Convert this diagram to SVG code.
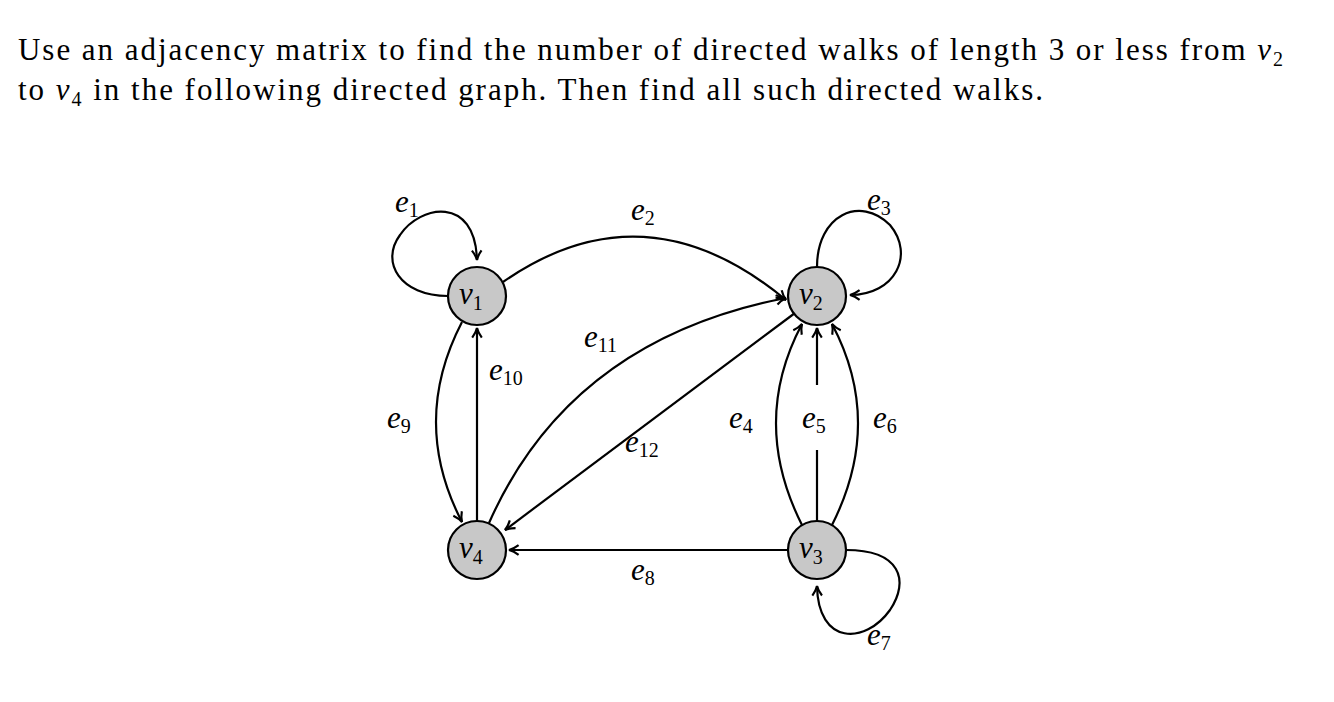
<svg xmlns="http://www.w3.org/2000/svg" width="1334" height="702" viewBox="0 0 1334 702">
<style>
.t{font-family:"Liberation Serif","DejaVu Serif",serif;font-size:31px;fill:#000}
.m{font-family:"Liberation Serif","DejaVu Serif",serif;font-style:italic;font-size:31px;fill:#000}
.s{font-style:normal;font-size:20px}
.e{fill:none;stroke:#000;stroke-width:2.2;marker-end:url(#a)}
.n{fill:#c8c8c8;stroke:#000;stroke-width:2.2}
</style>
<defs><marker id="a" viewBox="0 0 10 10" refX="9" refY="5" markerWidth="12" markerHeight="12" orient="auto" markerUnits="userSpaceOnUse" overflow="visible"><path d="M1,1 Q5,4 9,5 Q5,6 1,9" fill="none" stroke="#000" stroke-width="1.8"/></marker></defs>
<rect width="1334" height="702" fill="#fff"/>
<text class="t" x="18" y="60" textLength="1265" lengthAdjust="spacing">Use an adjacency matrix to find the number of directed walks of length 3 or less from <tspan font-style="italic">v</tspan><tspan font-size="20" dy="6">2</tspan></text>
<text class="t" x="18" y="100" textLength="1025" lengthAdjust="spacing">to <tspan font-style="italic">v</tspan><tspan font-size="20" dy="6">4</tspan><tspan dy="-6"> in the following directed graph. Then find all such directed walks.</tspan></text>
<g id="edges">
<path class="e" d="M448,296 C400,296 380,262 400,235 C420,205 475,195 477,260"/>
<path class="e" d="M503,282 Q645,183 786,300"/>
<path class="e" d="M817,267 C817,215 860,195 890,225 C915,255 895,295 850,295"/>
<path class="e" d="M802,525 Q750,422 802,324"/>
<path class="e" d="M817,385 L817,328"/>
<path d="M817,450 L817,521" stroke="#000" stroke-width="2.2"/>
<path class="e" d="M832,525 Q884,422 832,324"/>
<path class="e" d="M846,550 C900,550 910,580 890,610 C865,645 818,645 817,586"/>
<path class="e" d="M788,550 L509,550"/>
<path class="e" d="M462,322 Q410,422 462,522"/>
<path class="e" d="M477,522 L477,328"/>
<path class="e" d="M489,523 Q570,340 786,298"/>
<path class="e" d="M795,313 L505,530"/>
</g>
<g id="v1"><circle class="n" cx="477" cy="296" r="29"/><text class="m" x="459" y="304">v<tspan class="s" dy="6">1</tspan></text></g>
<g id="v2"><circle class="n" cx="817" cy="296" r="29"/><text class="m" x="799" y="304">v<tspan class="s" dy="6">2</tspan></text></g>
<g id="v3"><circle class="n" cx="817" cy="550" r="29"/><text class="m" x="799" y="558">v<tspan class="s" dy="6">3</tspan></text></g>
<g id="v4"><circle class="n" cx="477" cy="550" r="29"/><text class="m" x="459" y="558">v<tspan class="s" dy="6">4</tspan></text></g>
<g id="labels">
<text class="m" x="395" y="212">e<tspan class="s" dy="5">1</tspan></text>
<text class="m" x="631" y="220">e<tspan class="s" dy="5">2</tspan></text>
<text class="m" x="867" y="210">e<tspan class="s" dy="5">3</tspan></text>
<text class="m" x="729" y="428">e<tspan class="s" dy="5">4</tspan></text>
<text class="m" x="802" y="428">e<tspan class="s" dy="5">5</tspan></text>
<text class="m" x="873" y="428">e<tspan class="s" dy="5">6</tspan></text>
<text class="m" x="867" y="645">e<tspan class="s" dy="5">7</tspan></text>
<text class="m" x="631" y="580">e<tspan class="s" dy="5">8</tspan></text>
<text class="m" x="387" y="428">e<tspan class="s" dy="5">9</tspan></text>
<text class="m" x="489" y="380">e<tspan class="s" dy="5">10</tspan></text>
<text class="m" x="584" y="347">e<tspan class="s" dy="5">11</tspan></text>
<text class="m" x="625" y="452">e<tspan class="s" dy="5">12</tspan></text>
</g>
</svg>
